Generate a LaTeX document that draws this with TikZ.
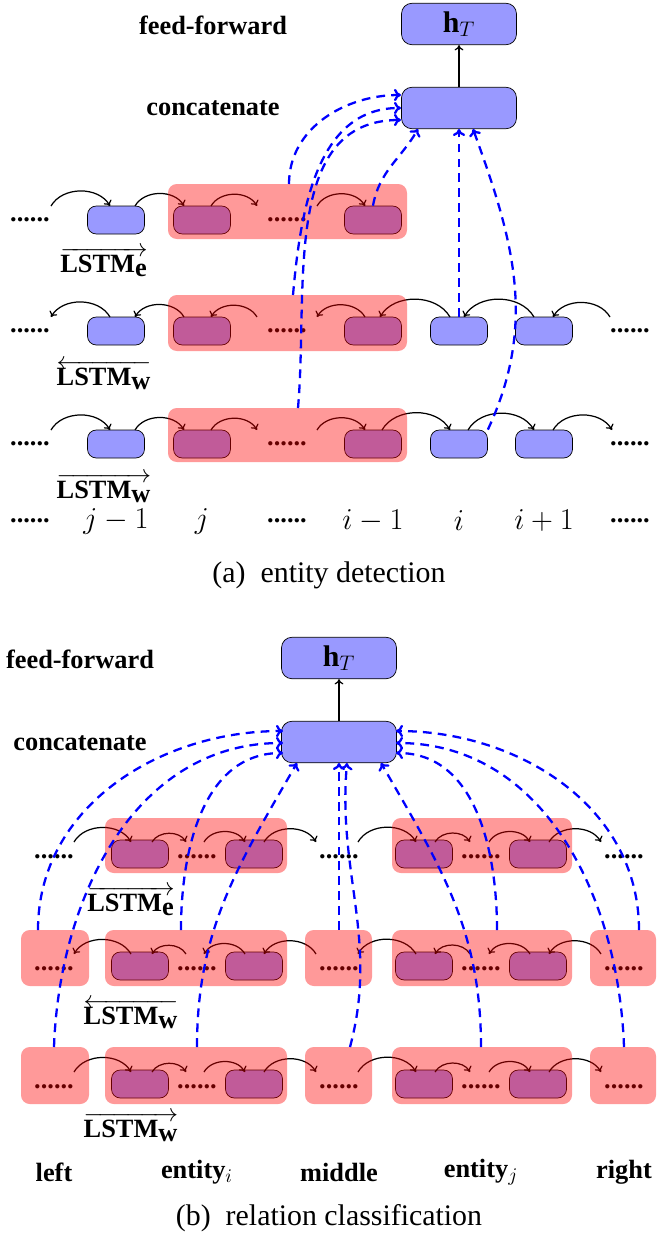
\documentclass[tikz,border=0pt]{standalone}
\usepackage{fontspec}
\setmainfont{Liberation Serif}
\usetikzlibrary{arrows.meta}
\begin{document}
\begin{tikzpicture}[x=0.02cm,y=-0.02cm,
  bb/.style={draw=black,fill={rgb,255:red,153;green,153;blue,255},rounded corners=5pt,minimum width=1.14cm,minimum height=0.56cm,inner sep=0pt},
  top/.style={draw=black,fill={rgb,255:red,153;green,153;blue,255},rounded corners=6pt,minimum width=2.3cm,minimum height=0.83cm,inner sep=0pt},
  rr/.style={fill=red,fill opacity=0.4,rounded corners=5pt},
  arc/.style={-{To[length=3pt,width=5pt]},line width=0.7pt},
  dsh/.style={blue,line width=1.3pt,dash pattern=on 5pt off 3.5pt,-{To[length=4pt,width=7pt]}},
  lab/.style={font=\fontsize{15}{18}\selectfont\bfseries},
  dt/.style={font=\fontsize{15}{18}\selectfont\bfseries,inner sep=0pt},
  idx/.style={font=\fontsize{18}{20}\selectfont},
  capt/.style={font=\fontsize{17}{20}\selectfont}]
\useasboundingbox (0,0) rectangle (659,1244);
\newcommand{\fw}[3]{\draw[arc] (#1,#3) to[out=60,in=120] (#2,#3);}
\newcommand{\bw}[3]{\draw[arc] (#2,#3) to[out=120,in=60] (#1,#3);}
% ================= (a) =================
\node[top] (ha) at (459,24) {\fontsize{17}{20}\selectfont$\mathbf{h}_T$};
\node[top] (ca) at (459,108) {};
\draw[arc] (ca) -- (ha);
\node[lab] (ffa) at (213,25) {feed-forward};
\node[lab] (cta) at (213,108) {concatenate};
\foreach \r/\y in {1/220,2/331,3/444}{
  \node[dt] (ad\r l) at (30,\y) {......};
  \node[bb] (a\r a) at (116,\y) {};
  \node[bb] (a\r b) at (202,\y) {};
  \node[dt] (ad\r m) at (287,\y) {......};
  \node[bb] (a\r c) at (373,\y) {};
}
\foreach \r/\y in {2/331,3/444}{
  \node[bb] (a\r d) at (459,\y) {};
  \node[bb] (a\r e) at (544,\y) {};
  \node[dt] (ad\r r) at (630,\y) {......};
}
\fw{51}{110}{206}\fw{135}{184}{206}\fw{211}{257}{206}\fw{317}{365}{206}
\bw{51}{110}{317}\bw{135}{184}{317}\bw{211}{257}{317}\bw{317}{365}{317}\bw{380}{450}{317}\bw{464}{534}{317}\bw{553}{610}{317}
\fw{51}{110}{430}\fw{135}{184}{430}\fw{211}{257}{430}\fw{317}{365}{430}\fw{382}{450}{430}\fw{468}{534}{430}\fw{553}{612}{430}
\fill[rr] (168,184) rectangle (407,239);
\fill[rr] (168,295) rectangle (407,351);
\fill[rr] (168,408) rectangle (407,462);
\node[lab] (la1) at (104,262) {$\overrightarrow{\textbf{LSTM}_\textbf{e}}$};
\node[lab] (la2) at (104,375) {$\overleftarrow{\textbf{LSTM}_\textbf{w}}$};
\node[lab] (la3) at (104,488) {$\overrightarrow{\textbf{LSTM}_\textbf{w}}$};
\node[dt] (i0) at (30,521) {......};
\node[idx] (i1) at (116,521) {$j-1$};
\node[idx] (i2) at (202,521) {$j$};
\node[dt] (i3) at (287,521) {......};
\node[idx] (i4) at (373,521) {$i-1$};
\node[idx] (i5) at (459,521) {$i$};
\node[idx] (i6) at (544,521) {$i+1$};
\node[dt] (i7) at (630,521) {......};
\node[capt] (capa) at (329,575) {(a)\ \ entity detection};
\coordinate (s1) at (289,184); \coordinate (s2) at (293,295); \coordinate (s3) at (298,408);
\draw[dsh] (s1) to[out=90,in=180] (401,95);
\draw[dsh] (s2) to[out=85,in=180] (401,108);
\draw[dsh] (s3) to[out=85,in=180] (401,120);
\draw[dsh] (a1c.north) to[out=80,in=-120] (418,129);
\draw[dsh] (a2d.north) -- (459,129);
\draw[dsh] (a3d.north east) to[out=65,in=-70] (473,129);
% ================= (b) =================
\node[top] (hb) at (339,658) {\fontsize{17}{20}\selectfont$\mathbf{h}_T$};
\node[top] (cb) at (339,742) {};
\draw[arc] (cb) -- (hb);
\node[lab] (ffb) at (80,659) {feed-forward};
\node[lab] (ctb) at (80,743) {concatenate};
\foreach \r/\y in {1/854,2/966,3/1084}{
  \node[bb] (b\r a) at (140,\y) {};
  \node[bb] (b\r b) at (254,\y) {};
  \node[bb] (b\r c) at (424,\y) {};
  \node[bb] (b\r d) at (538,\y) {};
  \node[dt] (bd\r a) at (54,\y+3) {......};
  \node[dt] (bd\r b) at (197,\y+3) {......};
  \node[dt] (bd\r c) at (339,\y+3) {......};
  \node[dt] (bd\r d) at (481,\y+3) {......};
  \node[dt] (bd\r e) at (624,\y+3) {......};
}
\foreach \y in {842,1072}{
\fw{74}{131}{\y}\fw{152}{186}{\y}\fw{204}{245}{\y}\fw{264}{316}{\y}\fw{358}{416}{\y}\fw{435}{470}{\y}\fw{489}{530}{\y}\fw{549}{601}{\y}}
\bw{74}{131}{954}\bw{152}{186}{954}\bw{204}{245}{954}\bw{264}{316}{954}\bw{358}{416}{954}\bw{435}{470}{954}\bw{489}{530}{954}\bw{549}{601}{954}
\fill[rr] (105,818) rectangle (287,873);
\fill[rr] (392,818) rectangle (572,873);
\foreach \t/\bt in {930/986,1047/1104}{
  \fill[rr] (21,\t) rectangle (89,\bt);
  \fill[rr] (105,\t) rectangle (287,\bt);
  \fill[rr] (305,\t) rectangle (372,\bt);
  \fill[rr] (392,\t) rectangle (572,\bt);
  \fill[rr] (590,\t) rectangle (656,\bt);
}
\node[lab] (lb1) at (131,901) {$\overrightarrow{\textbf{LSTM}_\textbf{e}}$};
\node[lab] (lb2) at (131,1014) {$\overleftarrow{\textbf{LSTM}_\textbf{w}}$};
\node[lab] (lb3) at (131,1127) {$\overrightarrow{\textbf{LSTM}_\textbf{w}}$};
\node[lab] (w1) at (54,1172) {left};
\node[lab] (w2) at (197,1172) {entity$_i$};
\node[lab] (w3) at (339,1172) {middle};
\node[lab] (w4) at (481,1172) {entity$_j$};
\node[lab] (w5) at (624,1172) {right};
\node[capt] (capb) at (329,1218) {(b)\ \ relation classification};
\coordinate (l1) at (38,930); \coordinate (l2) at (54,1047);
\coordinate (l3) at (181,930); \coordinate (l4) at (197,1047);
\coordinate (m1) at (339,930); \coordinate (m2) at (350,1047);
\coordinate (r1) at (639,930); \coordinate (r2) at (624,1047);
\coordinate (r3) at (497,930); \coordinate (r4) at (481,1047);
\draw[dsh] (l1) to[out=90,in=180] (283,731);
\draw[dsh] (l2) to[out=88,in=180] (283,743);
\draw[dsh] (l3) to[out=90,in=180] (283,753);
\draw[dsh] (l4) to[out=90,in=-120] (297,763);
\draw[dsh] (m1) -- (339,763);
\draw[dsh] (m2) to[out=75,in=-95] (347,763);
\draw[dsh] (r1) to[out=90,in=0] (396,731);
\draw[dsh] (r2) to[out=92,in=0] (396,743);
\draw[dsh] (r3) to[out=90,in=0] (396,753);
\draw[dsh] (r4) to[out=90,in=-60] (381,763);
\end{tikzpicture}
\end{document}
